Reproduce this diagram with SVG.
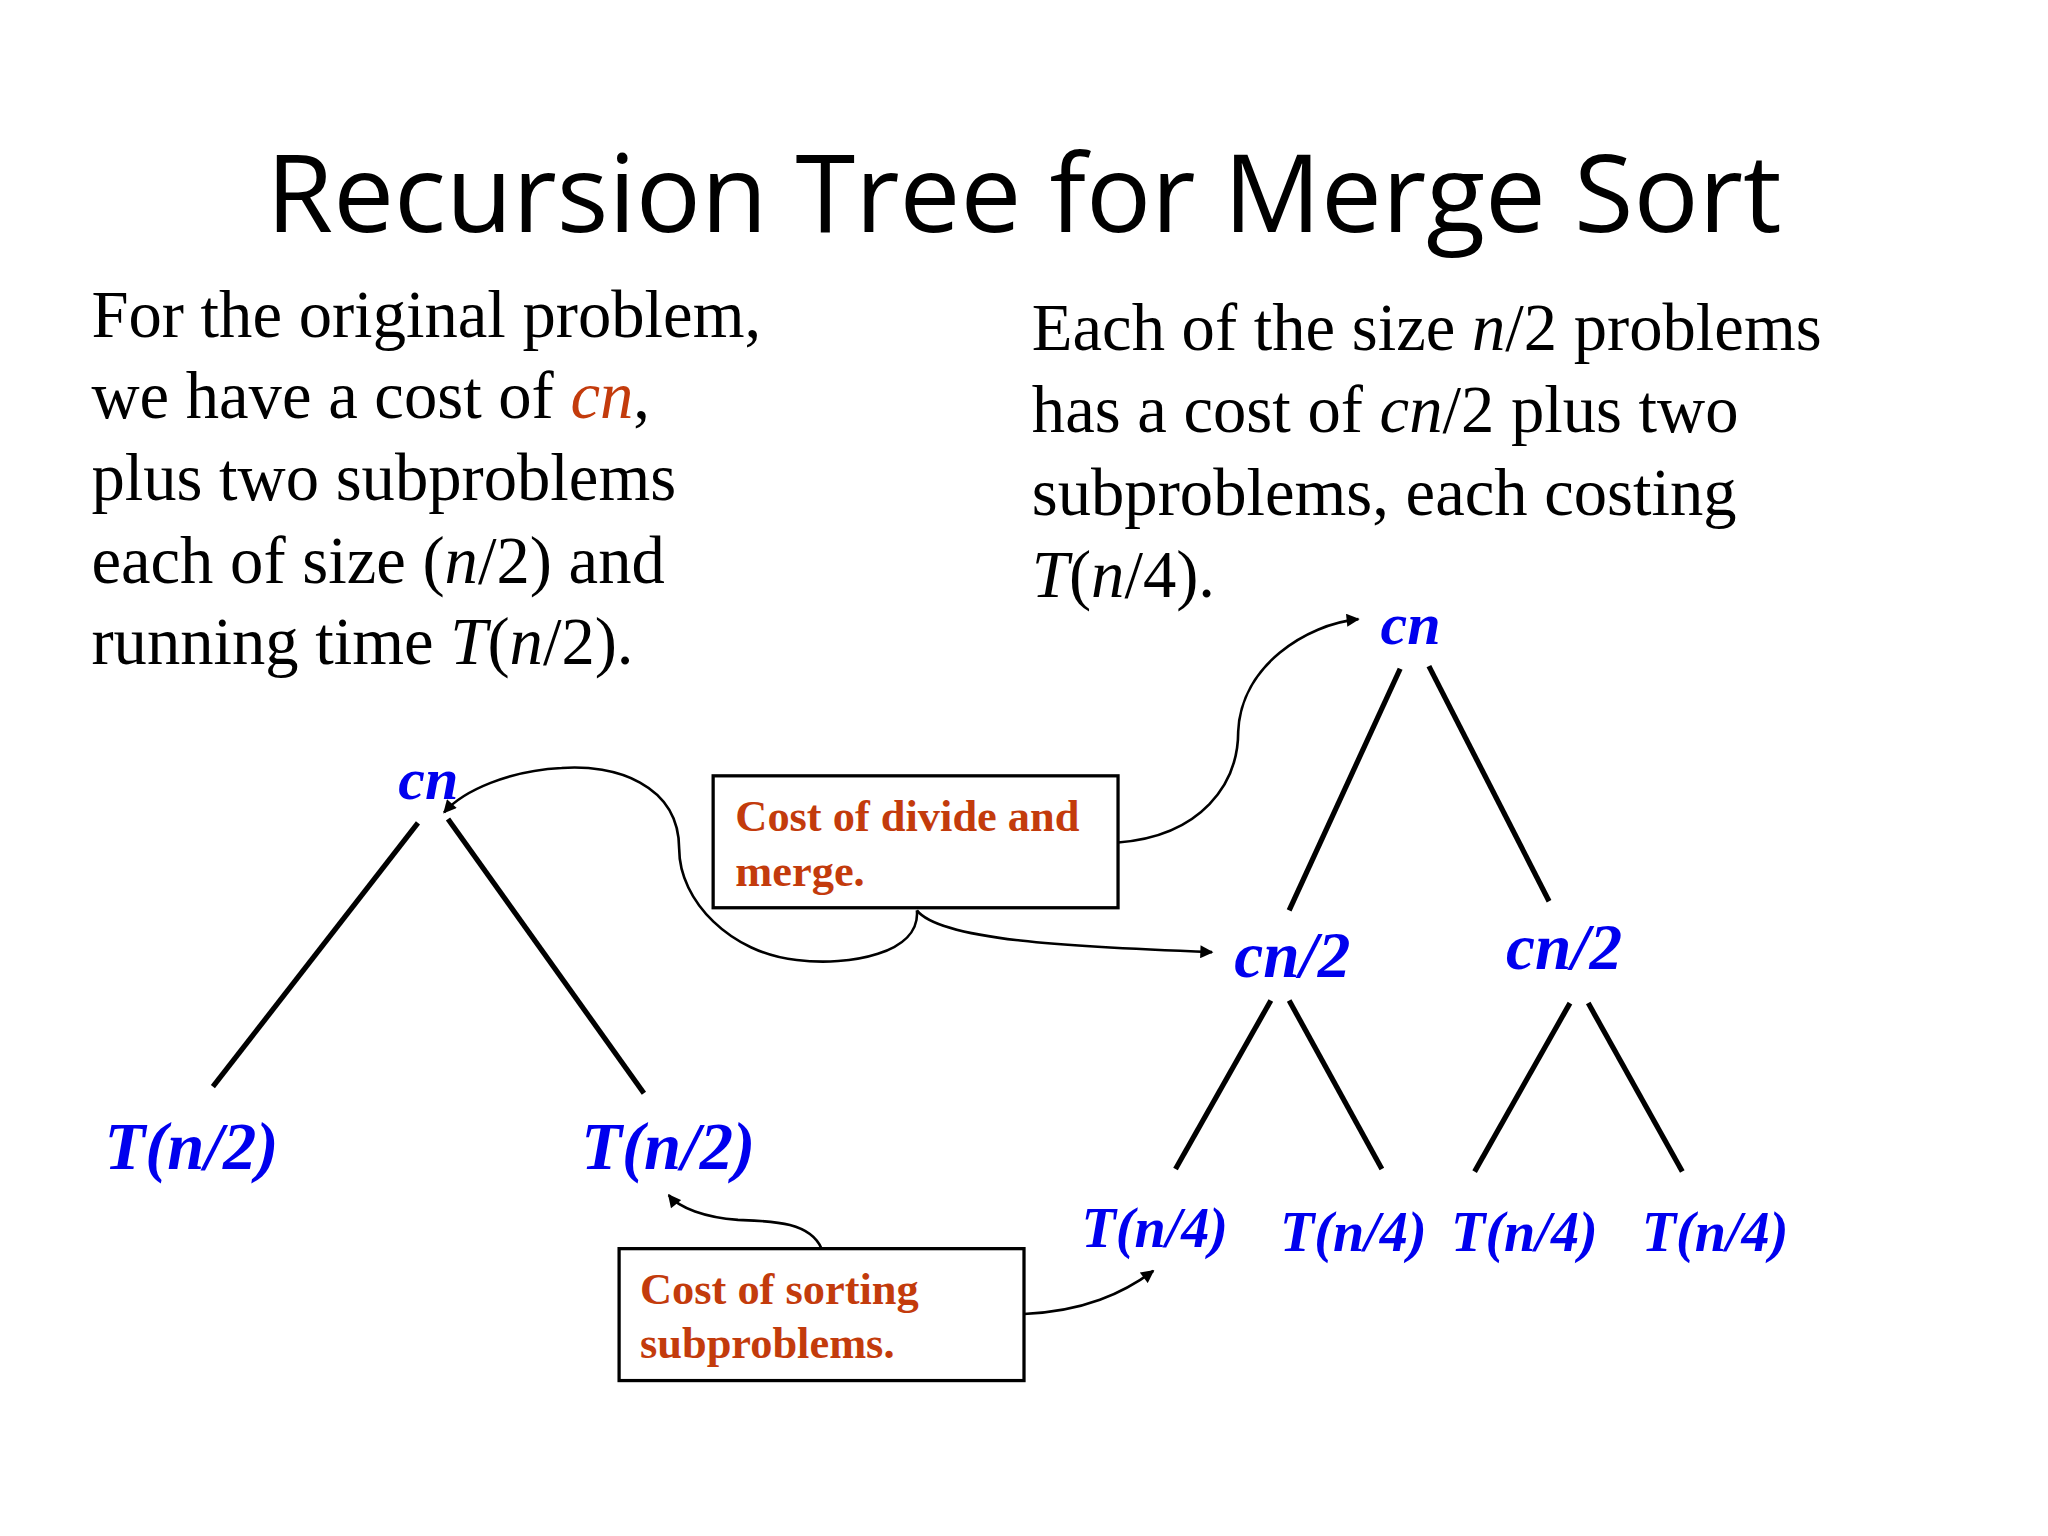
<svg xmlns="http://www.w3.org/2000/svg" width="2048" height="1536" viewBox="0 0 2048 1536">
<style>
.t{font-family:"Liberation Serif","Times New Roman",serif;font-size:51px;fill:#000}
.m{font-family:"Liberation Serif",serif;font-weight:bold;font-style:italic;fill:#0000ee}
.b{font-family:"Liberation Serif",serif;font-weight:bold;font-size:34px;fill:#c33b0c}
.e{stroke:#000;stroke-width:4;fill:none}
.c{stroke:#000;stroke-width:2;fill:none;marker-end:url(#a)}
.box{fill:#fff;stroke:#000;stroke-width:2.5}
</style>
<defs><marker id="a" viewBox="0 0 10 10" refX="9" refY="5" markerWidth="11" markerHeight="10" orient="auto" markerUnits="userSpaceOnUse"><path d="M0,0L10,5L0,10z"/></marker></defs>
<rect width="2048" height="1536" fill="#fff"/>
<g transform="scale(1.30612)">
<text x="784" y="178" text-anchor="middle" font-family="'Open Sans','Liberation Sans',sans-serif" font-size="83">Recursion Tree for Merge Sort</text>
<g id="leftText" class="t">
<text x="70" y="258">For the original problem,</text>
<text x="70" y="320">we have a cost of <tspan font-style="italic" fill="#c33b0c">cn</tspan>,</text>
<text x="70" y="383">plus two subproblems</text>
<text x="70" y="446">each of size (<tspan font-style="italic">n</tspan>/2) and</text>
<text x="70" y="508">running time <tspan font-style="italic">T</tspan>(<tspan font-style="italic">n</tspan>/2).</text>
</g>
<g id="rightText" class="t">
<text x="790" y="268">Each of the size <tspan font-style="italic">n</tspan>/2 problems</text>
<text x="790" y="331">has a cost of <tspan font-style="italic">cn</tspan>/2 plus two</text>
<text x="790" y="394">subproblems, each costing</text>
<text x="790" y="457"><tspan font-style="italic">T</tspan>(<tspan font-style="italic">n</tspan>/4).</text>
</g>
<g id="edges">
<line class="e" x1="320" y1="630" x2="163" y2="832"/>
<line class="e" x1="343" y1="627" x2="493" y2="837"/>
<line class="e" x1="1072" y1="512" x2="987" y2="697"/>
<line class="e" x1="1094" y1="510" x2="1186" y2="690"/>
<line class="e" x1="973" y1="766" x2="900" y2="895"/>
<line class="e" x1="987" y1="766" x2="1058" y2="895"/>
<line class="e" x1="1202" y1="768" x2="1129" y2="897"/>
<line class="e" x1="1216" y1="768" x2="1288" y2="897"/>
</g>
<g id="n1"><text class="m" x="305" y="612" font-size="46">cn</text></g>
<g id="n2"><text class="m" x="80" y="895" font-size="51">T(n/2)</text></g>
<g id="n3"><text class="m" x="445" y="895" font-size="51">T(n/2)</text></g>
<g id="n4"><text class="m" x="1057" y="493" font-size="46">cn</text></g>
<g id="n5"><text class="m" x="945" y="748" font-size="50">cn/2</text></g>
<g id="n6"><text class="m" x="1153" y="742" font-size="50">cn/2</text></g>
<g id="n7"><text class="m" x="828" y="955" font-size="43">T(n/4)</text></g>
<g id="n8"><text class="m" x="980" y="958" font-size="43">T(n/4)</text></g>
<g id="n9"><text class="m" x="1111" y="958" font-size="43">T(n/4)</text></g>
<g id="n10"><text class="m" x="1257" y="958" font-size="43">T(n/4)</text></g>
<g id="box1"><rect class="box" x="546" y="594" width="310" height="101"/>
<text class="b" x="563" y="636">Cost of divide and</text><text class="b" x="563" y="678">merge.</text></g>
<g id="box2"><rect class="box" x="474" y="956" width="310" height="101"/>
<text class="b" x="490" y="998">Cost of sorting</text><text class="b" x="490" y="1040">subproblems.</text></g>
<g id="connectors">
<path class="c" d="M856,645 C920,640 948,600 948,560 C950,510 1000,478 1040,474"/>
<path class="c" d="M702,697 C705,730 650,740 610,735 C560,730 520,690 520,650 C520,600 470,585 430,588 C390,590 355,605 340,622"/>
<path class="c" d="M702,697 C720,720 820,725 928,729"/>
<path class="c" d="M629,956 C620,935 590,935 565,934 C540,932 520,925 512,915"/>
<path class="c" d="M784,1006 C830,1004 860,990 883,973"/>
</g>
</g>
</svg>
